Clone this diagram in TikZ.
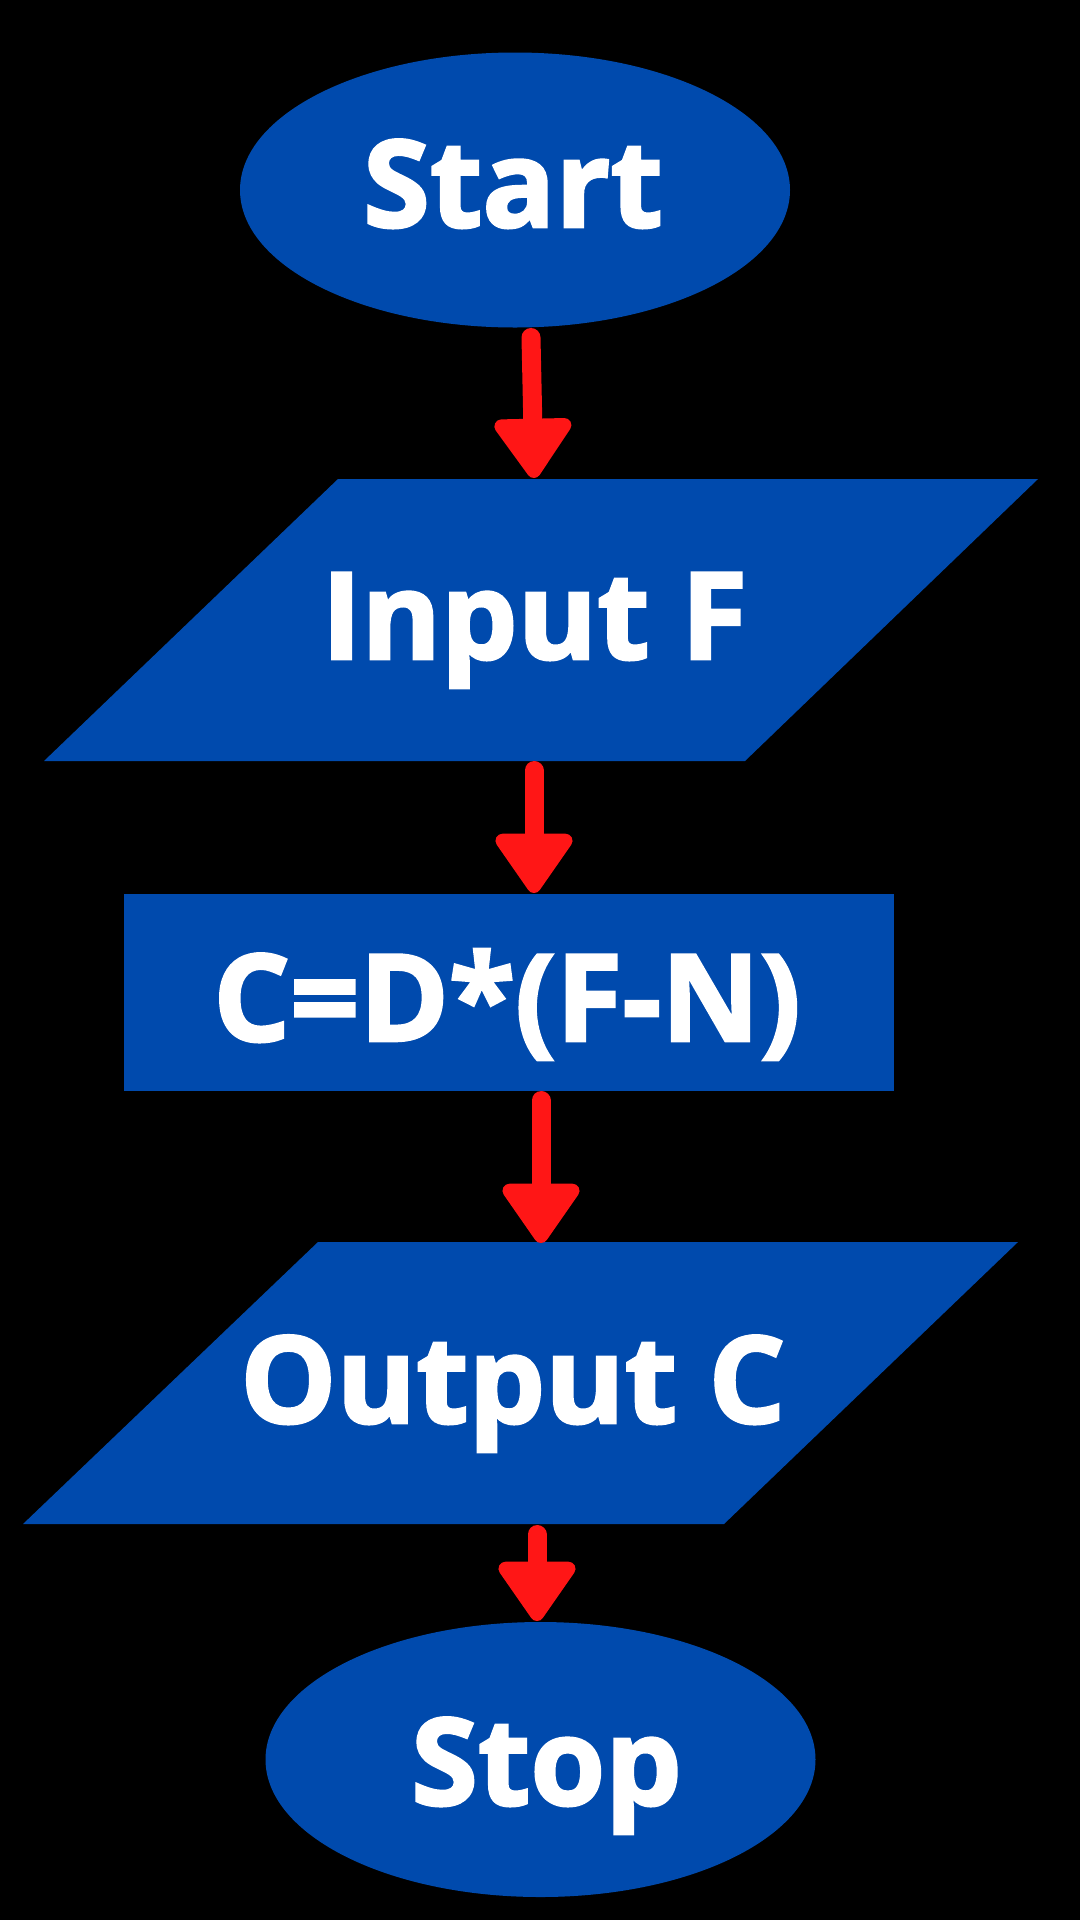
\documentclass[tikz,border=0pt]{standalone}
\usepackage{fontspec}
\setmainfont{Open Sans}[BoldFeatures={FakeBold=2.2}]
\usetikzlibrary{shapes.geometric,arrows.meta}
\definecolor{fcblue}{HTML}{004AAD}
\definecolor{fcred}{HTML}{FF1616}
\begin{document}
\begin{tikzpicture}[x=1pt,y=-1pt,
  term/.style={ellipse, fill=fcblue, minimum width=550pt, minimum height=275pt, inner sep=0pt},
  procbox/.style={rectangle, fill=fcblue, minimum width=770pt, minimum height=197pt, inner sep=0pt},
  iobox/.style={fill=fcblue},
  txt/.style={text=white, font=\fontsize{121}{145}\selectfont\bfseries, anchor=base, inner sep=0pt},
  arr/.style={draw=fcred, line width=19pt, line cap=round,
    -{Triangle[width=86pt,length=65pt,line width=14pt,round]}},
]
\fill[black] (0,0) rectangle (1080,1920);
\useasboundingbox (0,0) rectangle (1080,1920);

% shapes
\node[term] (start) at (515,190) {};
\fill[iobox] (338,479) -- (1038,479) -- (745,761) -- (44,761) -- cycle;
\node[procbox] (calc) at (509,992.5) {};
\fill[iobox] (318,1242) -- (1018,1242) -- (724,1524) -- (23,1524) -- cycle;
\node[term] (stop) at (540.5,1759.5) {};

% texts
\node[txt] (startT) at (513,227) {Start};
\node[txt] (inF) at (534.5,659) {Input F};
\node[txt] (calcT) at (507,1041) {C=D*(F-N)};
\node[txt] (outC) at (513,1423) {Output C};
\node[txt] (stopT) at (546.5,1805) {Stop};

% connector ends
\coordinate (a1s) at (531,337.5);
\coordinate (a1e) at (534,478);
\coordinate (a2s) at (534,770.5);
\coordinate (a2e) at (534,893);
\coordinate (a3s) at (541,1100.5);
\coordinate (a3e) at (541,1243);
\coordinate (a4s) at (537,1534.5);
\coordinate (a4e) at (537,1621);

\draw[arr] (a1s) -- (a1e);
\draw[arr] (a2s) -- (a2e);
\draw[arr] (a3s) -- (a3e);
\draw[arr] (a4s) -- (a4e);
\end{tikzpicture}
\end{document}
